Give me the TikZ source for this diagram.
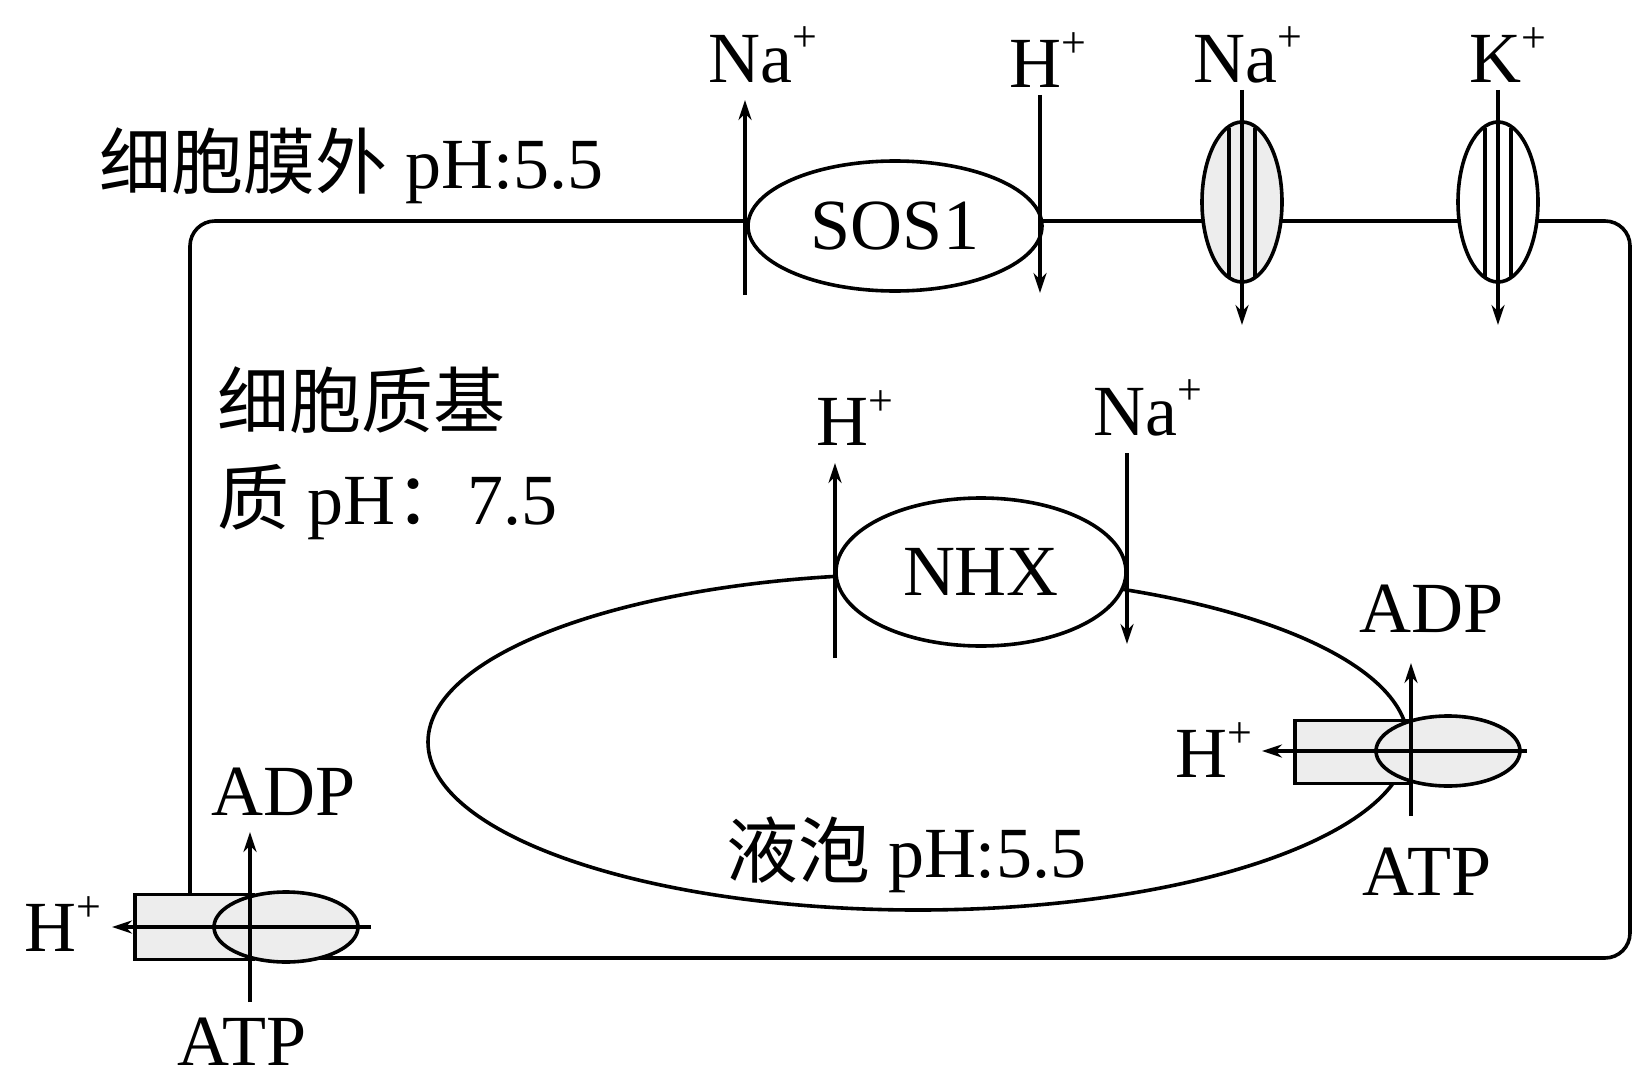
\documentclass[tikz,border=0pt]{standalone}
\usepackage{fontspec}
\setmainfont{Liberation Serif}
\newfontfamily\cjk{Noto Sans CJK SC}
\usetikzlibrary{arrows.meta,shapes.geometric}
\newcommand{\ion}[1]{#1\raisebox{0.42em}{\fontsize{44}{44}\selectfont +}}
\begin{document}
\begin{tikzpicture}[x=1pt,y=-1pt,line width=3.6pt,
  lab/.style={font=\fontsize{72}{78}\selectfont,inner sep=0pt},
  arr/.style={-{Stealth[length=20pt,width=13pt]}},
  gr/.style={fill=black!7,draw}]
\useasboundingbox (0,0) rectangle (1650,1081);
\draw[rounded corners=25pt] (190,221) rectangle (1630,958);
% SOS1
\node[draw,fill=white,ellipse,minimum width=294pt,minimum height=130pt,lab] (sos) at (895,226) {SOS1};
\coordinate (s1a) at (745,295); \coordinate (s1b) at (745,100);
\coordinate (s2a) at (1040,95); \coordinate (s2b) at (1040,293);
\draw[arr] (s1a) -- (s1b);
\draw[arr] (s2a) -- (s2b);
\node[lab] (na1) at (763,55) {\ion{Na}};
\node[lab] (h1) at (1048,60) {\ion{H}};
% channels
\foreach \cx/\fl/\nm in {1242/black!7/ch1,1498/white/ch2}{
  \node[draw,fill=\fl,ellipse,minimum width=80pt,minimum height=160pt] (\nm) at (\cx,202) {};
  \draw (\cx-13,128) -- (\cx-13,277);
  \draw (\cx+13,128) -- (\cx+13,277);
  \coordinate (\nm t) at (\cx,90); \coordinate (\nm b) at (\cx,325);
  \draw[arr] (\nm t) -- (\nm b);
}
\node[lab] (na2) at (1248,55) {\ion{Na}};
\node[lab] (k1) at (1508,55) {\ion{K}};
% texts
\node[lab,anchor=west] (t1) at (98,166) {{\cjk 细胞膜外} pH:5.5};
\node[lab,anchor=west] (t2) at (216,400) {\cjk 细胞质基};
\node[lab,anchor=west] (t3) at (216,502) {{\cjk 质} pH{\cjk ：}7.5};
% vacuole
\draw (918,742) ellipse [x radius=490pt,y radius=168pt];
\node[lab] (t4) at (906,855) {{\cjk 液泡} pH:5.5};
% NHX
\node[draw,fill=white,ellipse,minimum width=290pt,minimum height=148pt,lab] (nhx) at (981,572) {NHX};
\coordinate (n1a) at (835,658); \coordinate (n1b) at (835,463);
\coordinate (n2a) at (1127,453); \coordinate (n2b) at (1127,644);
\draw[arr] (n1a) -- (n1b);
\draw[arr] (n2a) -- (n2b);
\node[lab] (h2) at (855,418) {\ion{H}};
\node[lab] (na3) at (1148,408) {\ion{Na}};
% right pump
\node[gr,minimum width=116pt,minimum height=63pt] (rr) at (1353,752) {};
\node[gr,ellipse,minimum width=144pt,minimum height=70pt] (re) at (1448,751) {};
\coordinate (rha) at (1527,751); \coordinate (rhb) at (1262,751);
\coordinate (rva) at (1411,816); \coordinate (rvb) at (1411,663);
\draw[arr] (rha) -- (rhb);
\draw[arr] (rva) -- (rvb);
\node[lab] (adp1) at (1432,609) {ADP};
\node[lab] (atp1) at (1427,872) {ATP};
\node[lab] (h3) at (1214,750) {\ion{H}};
% left pump
\node[gr,minimum width=118pt,minimum height=65pt] (lr) at (194,927) {};
\node[gr,ellipse,minimum width=144pt,minimum height=70pt] (le) at (286,927) {};
\coordinate (lha) at (371,927); \coordinate (lhb) at (112,927);
\coordinate (lva) at (250,1002); \coordinate (lvb) at (250,832);
\draw[arr] (lha) -- (lhb);
\draw[arr] (lva) -- (lvb);
\node[lab] (adp2) at (284,792) {ADP};
\node[lab] (atp2) at (242,1042) {ATP};
\node[lab] (h4) at (63,924) {\ion{H}};
\end{tikzpicture}
\end{document}
